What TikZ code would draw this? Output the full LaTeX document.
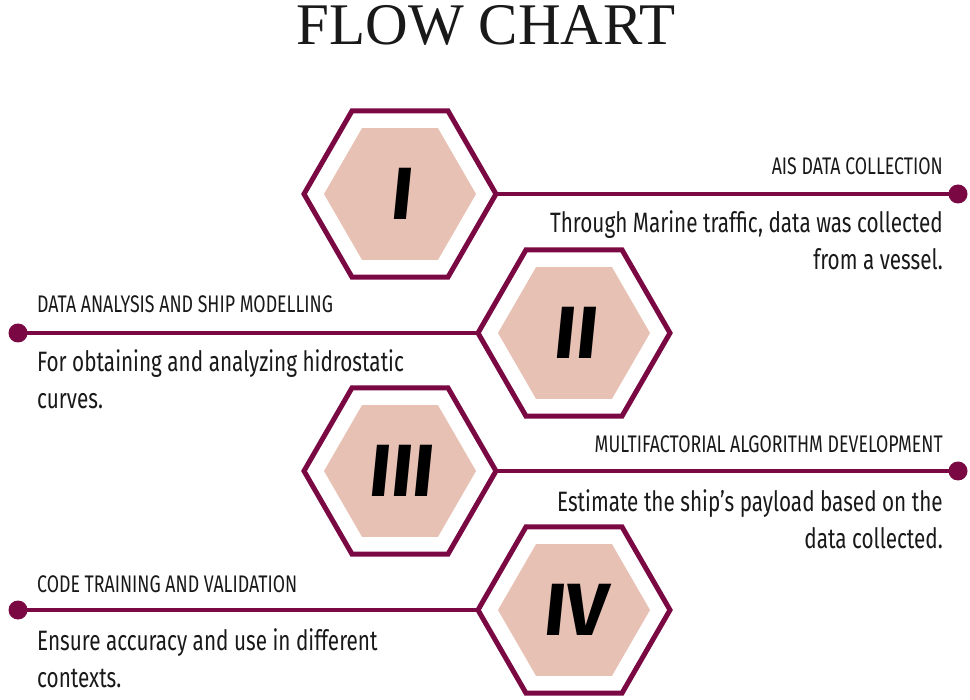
\documentclass[tikz,border=0pt]{standalone}
\usepackage{fontspec}
\setmainfont{Liberation Serif}
\newfontfamily\bodyfont[FakeStretch=0.74]{Fira Sans}
\newfontfamily\numfont[FakeSlant=0.1]{Fira Sans}
\usetikzlibrary{shapes.geometric}
\definecolor{wine}{RGB}{122,8,66}
\definecolor{blush}{RGB}{232,193,181}
\definecolor{ink}{RGB}{25,25,25}
\tikzset{
  hexframe/.style={regular polygon, regular polygon sides=6, draw=wine, line width=5pt,
    fill=white, minimum size=192pt, inner sep=0pt, outer sep=0pt},
  hexcore/.style={regular polygon, regular polygon sides=6, fill=blush, minimum size=152pt,
    inner sep=0pt, font=\numfont\bfseries\fontsize{74}{74}\selectfont},
  endpoint/.style={circle, fill=wine, minimum size=19pt, inner sep=0pt},
  link/.style={draw=wine, line width=4pt},
  heading/.style={font=\bodyfont\fontsize{24}{26}\selectfont, text=ink, inner sep=0pt},
  blurb/.style={font=\bodyfont\fontsize{28}{37}\selectfont, text=ink, inner sep=0pt}
}
\begin{document}
\begin{tikzpicture}[x=1pt, y=-1pt]
    \useasboundingbox (0,0) rectangle (970,700);
    \node[anchor=base, font=\fontsize{59}{60}\selectfont, text=ink, inner sep=0pt] (title) at (486,45) {FLOW CHART};
    % end dots
    \node[endpoint] (dotI) at (958,194) {};
    \node[endpoint] (dotII) at (18,333) {};
    \node[endpoint] (dotIII) at (958,471) {};
    \node[endpoint] (dotIV) at (18,610) {};
    % hexagons
    \foreach \name/\x/\y in {I/400/194, II/574/333, III/400/471, IV/574/610} {
      \node[hexframe] (hex\name) at (\x,\y) {};
      \node[hexcore] (core\name) at (\x,\y) {\name};
    }
    % connectors
    \draw[link] (hexI.east) -- (dotI.center);
    \draw[link] (hexII.west) -- (dotII.center);
    \draw[link] (hexIII.east) -- (dotIII.center);
    \draw[link] (hexIV.west) -- (dotIV.center);
    % labels (base = last line)
    \node[heading, anchor=base east] (headI) at (943,175) {AIS DATA COLLECTION};
    \node[blurb, anchor=base east, align=right] (textI) at (943,270) {Through Marine traffic, data was collected\\from a vessel.};
    \node[heading, anchor=base west] (headII) at (37,313) {DATA ANALYSIS AND SHIP MODELLING};
    \node[blurb, anchor=base west, align=left] (textII) at (37,409) {For obtaining and analyzing hidrostatic\\curves.};
    \node[heading, anchor=base east] (headIII) at (943,453) {MULTIFACTORIAL ALGORITHM DEVELOPMENT};
    \node[blurb, anchor=base east, align=right] (textIII) at (943,548) {Estimate the ship’s payload based on the\\data collected.};
    \node[heading, anchor=base west] (headIV) at (37,592) {CODE TRAINING AND VALIDATION};
    \node[blurb, anchor=base west, align=left] (textIV) at (37,687) {Ensure accuracy and use in different\\contexts.};
\end{tikzpicture}
\end{document}
